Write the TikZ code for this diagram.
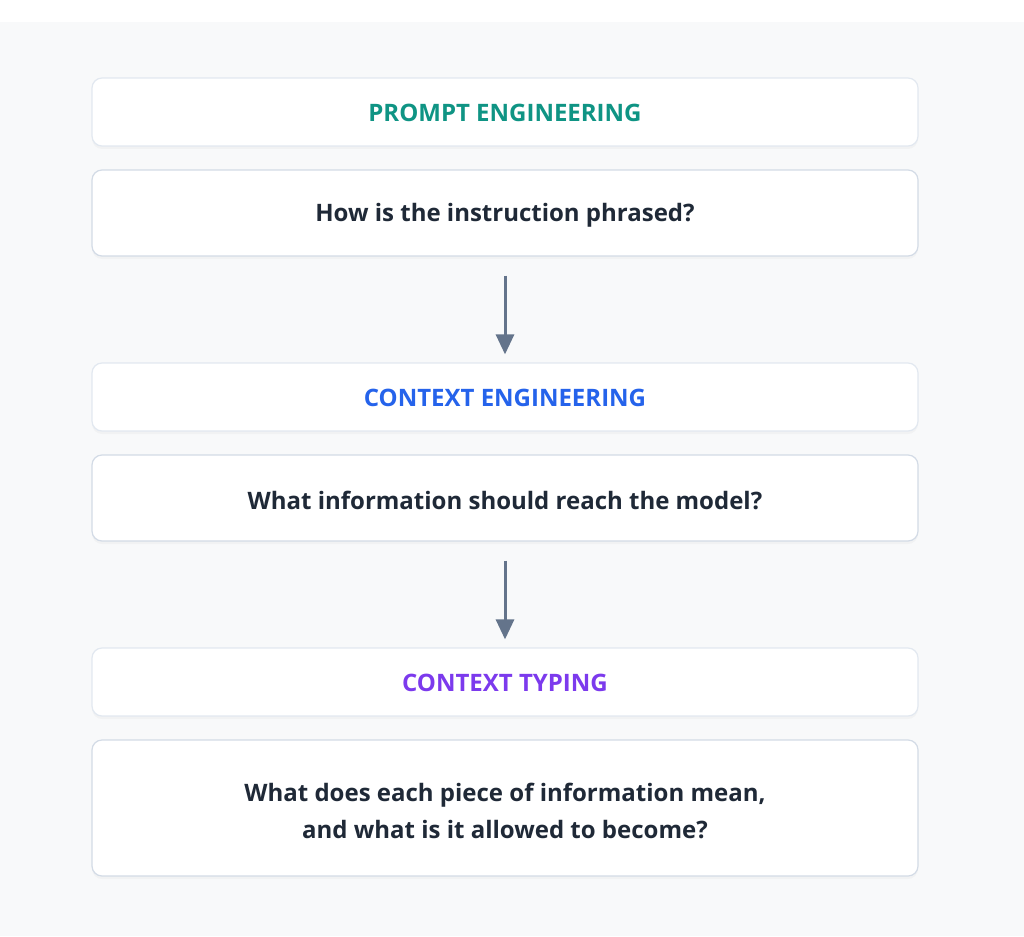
\documentclass[tikz,border=0pt]{standalone}
\usepackage{fontspec}
\setmainfont{Open Sans}
\usetikzlibrary{shadows,arrows.meta}
\definecolor{bggray}{HTML}{F8F9FA}
\definecolor{lblborder}{HTML}{E2E8F0}
\definecolor{qborder}{HTML}{D3DBE6}
\definecolor{teal}{HTML}{0F9484}
\definecolor{ctxblue}{HTML}{2563EB}
\definecolor{ctxpurple}{HTML}{7C3AED}
\definecolor{darktext}{HTML}{1F2937}
\definecolor{arrowgray}{HTML}{64748B}
\newcommand{\dnstrut}{\rule{0pt}{23.5pt}}
\tikzset{
  card/.style={draw=lblborder, line width=1.2pt, fill=white, rounded corners=10pt,
    minimum width=826pt, inner sep=0pt, align=center,
    drop shadow={opacity=0.05, shadow xshift=0pt, shadow yshift=-3pt}},
  lbl/.style={card, minimum height=68pt, font=\fontsize{24}{30}\selectfont\bfseries},
  qbox/.style={card, draw=qborder, font=\fontsize{24}{37}\selectfont\bfseries, text=darktext},
  flow/.style={draw=arrowgray, line width=3pt, -{Triangle[length=20pt,width=18pt]}}
}
\begin{document}
\begin{tikzpicture}[x=1pt,y=-1pt]
\useasboundingbox (0,0) rectangle (1024,936);
\fill[white] (0,0) rectangle (1024,22);
\fill[bggray] (0,22) rectangle (1024,936);
\node[lbl, text=teal] (pe) at (505,112) {\rule{0pt}{19pt}PROMPT ENGINEERING};
\node[qbox, minimum height=86pt] (peq) at (505,213) {\dnstrut How is the instruction phrased?};
\node[lbl, text=ctxblue] (ce) at (505,397) {\rule{0pt}{19pt}CONTEXT ENGINEERING};
\node[qbox, minimum height=86pt] (ceq) at (505,498) {\dnstrut What information should reach the model?};
\node[lbl, text=ctxpurple] (ct) at (505,682) {\rule{0pt}{19pt}CONTEXT TYPING};
\node[qbox, minimum height=136pt] (ctq) at (505,808) {\dnstrut What does each piece of information mean,\\and what is it allowed to become?};
\draw[flow, shorten <=19pt, shorten >=8pt] (peq.south) -- (ce.north);
\draw[flow, shorten <=19pt, shorten >=8pt] (ceq.south) -- (ct.north);
\end{tikzpicture}
\end{document}
